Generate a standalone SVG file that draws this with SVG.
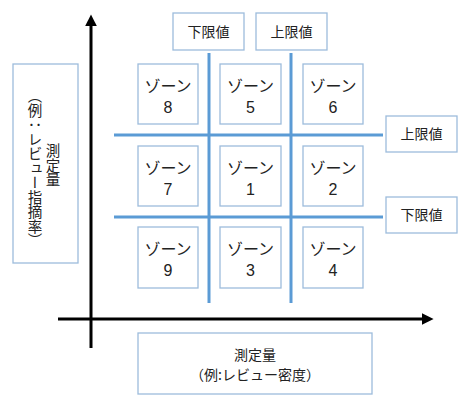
<svg xmlns="http://www.w3.org/2000/svg" width="474" height="410" viewBox="0 0 474 410">
<style>
.box{fill:#fff;stroke:#9dbcdc;stroke-width:1.3}
.t{font-family:"Noto Sans CJK JP","Noto Sans CJK SC",sans-serif;fill:#222;text-anchor:middle}
.z{font-size:16px}
.n{font-family:"Liberation Sans",sans-serif;font-size:16px;fill:#222;text-anchor:middle}
.s{font-size:14px}
.v{writing-mode:vertical-rl;font-size:14.5px}
.bl{stroke:#5b9bd5;stroke-width:3;fill:none}
.ax{stroke:#000;stroke-width:3;fill:none}
</style>
<defs>
<marker id="ah" viewBox="0 0 10 10" refX="2" refY="5" markerWidth="4" markerHeight="4" orient="auto" markerUnits="strokeWidth">
<path d="M0,0 L10,5 L0,10 z" fill="#000"/>
</marker>
</defs>
<rect width="474" height="410" fill="#fff"/>
<g id="connectors">
<line class="bl" x1="209" y1="53" x2="209" y2="303"/>
<line class="bl" x1="291" y1="53" x2="291" y2="303"/>
<line class="bl" x1="114" y1="135" x2="383" y2="135"/>
<line class="bl" x1="114" y1="217" x2="383" y2="217"/>
<line class="ax" x1="91" y1="348" x2="91" y2="24" marker-end="url(#ah)"/>
<line class="ax" x1="58" y1="319" x2="424" y2="319" marker-end="url(#ah)"/>
</g>
<g id="lower-top"><rect class="box" x="173" y="13" width="71" height="37"/><text class="t s" x="208.5" y="37">下限値</text></g>
<g id="upper-top"><rect class="box" x="256" y="13" width="71" height="37"/><text class="t s" x="291.5" y="37">上限値</text></g>
<g id="upper-right"><rect class="box" x="386" y="116" width="71" height="36"/><text class="t s" x="421.5" y="139">上限値</text></g>
<g id="lower-right"><rect class="box" x="386" y="197" width="71" height="36"/><text class="t s" x="421.5" y="220">下限値</text></g>
<g id="zone8"><rect class="box" x="138" y="64" width="60" height="60"/><text class="t z" x="168" y="92">ゾーン</text><text class="n" x="168" y="113">8</text></g>
<g id="zone5"><rect class="box" x="220" y="64" width="61" height="60"/><text class="t z" x="250.5" y="92">ゾーン</text><text class="n" x="250.5" y="113">5</text></g>
<g id="zone6"><rect class="box" x="303" y="64" width="60" height="60"/><text class="t z" x="333" y="92">ゾーン</text><text class="n" x="333" y="113">6</text></g>
<g id="zone7"><rect class="box" x="138" y="146" width="60" height="60"/><text class="t z" x="168" y="174">ゾーン</text><text class="n" x="168" y="195">7</text></g>
<g id="zone1"><rect class="box" x="220" y="146" width="61" height="60"/><text class="t z" x="250.5" y="174">ゾーン</text><text class="n" x="250.5" y="195">1</text></g>
<g id="zone2"><rect class="box" x="303" y="146" width="60" height="60"/><text class="t z" x="333" y="174">ゾーン</text><text class="n" x="333" y="195">2</text></g>
<g id="zone9"><rect class="box" x="138" y="227" width="60" height="61"/><text class="t z" x="168" y="255">ゾーン</text><text class="n" x="168" y="276">9</text></g>
<g id="zone3"><rect class="box" x="220" y="227" width="61" height="61"/><text class="t z" x="250.5" y="255">ゾーン</text><text class="n" x="250.5" y="276">3</text></g>
<g id="zone4"><rect class="box" x="303" y="227" width="60" height="61"/><text class="t z" x="333" y="255">ゾーン</text><text class="n" x="333" y="276">4</text></g>
<g id="y-label"><rect class="box" x="13" y="64" width="65" height="199"/>
<text class="t v" x="53" y="165">測定量</text>
<text class="t v" x="35" y="168">（例：レビュー指摘率）</text></g>
<g id="x-label"><rect class="box" x="138" y="333" width="234" height="61"/>
<text class="t s" x="255" y="360">測定量</text>
<text class="t s" x="255" y="380">（例:レビュー密度）</text></g>
</svg>
